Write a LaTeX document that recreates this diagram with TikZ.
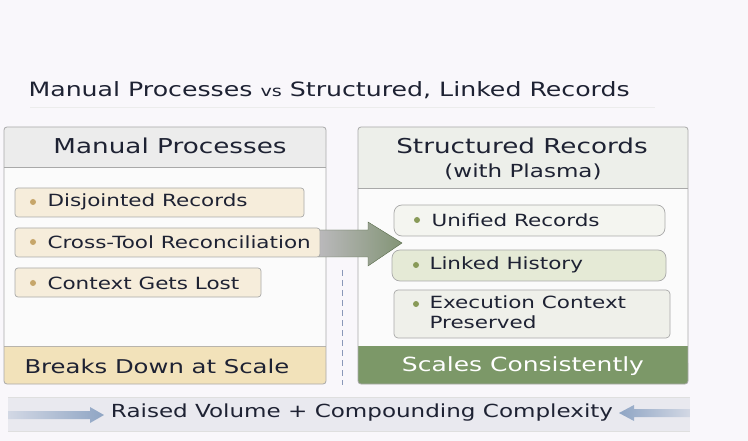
\documentclass[tikz,border=0pt]{standalone}
\usepackage{fontspec}
\setmainfont{DejaVu Sans}[FakeStretch=1.28]
\usetikzlibrary{shapes.arrows,arrows.meta,shadings}
\definecolor{bgc}{HTML}{F9F7FB}
\definecolor{ink}{HTML}{1E2233}
\definecolor{hdrL}{HTML}{ECECEC}
\definecolor{hdrR}{HTML}{EDEFEA}
\definecolor{tan}{HTML}{F2E2BA}
\definecolor{itemL}{HTML}{F6EDDB}
\definecolor{dotL}{HTML}{C6A66A}
\definecolor{grnF}{HTML}{7C9868}
\definecolor{itemR1}{HTML}{F4F5F0}
\definecolor{itemR2}{HTML}{E5EAD6}
\definecolor{itemR3}{HTML}{EFF0EA}
\definecolor{dotR}{HTML}{889A58}
\definecolor{edge}{HTML}{A9A9A9}
\definecolor{band}{HTML}{E9E9EF}
\definecolor{barrow}{HTML}{8FA5C4}
\definecolor{dashc}{HTML}{8A98B8}
\tikzset{
  panel/.style={draw=edge, line width=0.8pt, rounded corners=3pt},
  itemL/.style={draw=edge, fill=itemL, line width=0.7pt, rounded corners=3pt},
  itemR/.style={draw=edge, line width=0.7pt, rounded corners=8pt},
  itxt/.style={font=\fontsize{16.8}{21}\selectfont, text=ink, anchor=west},
  dotL/.style={circle, fill=dotL, inner sep=0pt, minimum size=6pt},
  dotR/.style={circle, fill=dotR, inner sep=0pt, minimum size=6pt},
}
\begin{document}
\begin{tikzpicture}[x=1pt,y=-1pt]
\useasboundingbox (0,0) rectangle (748,441);
\fill[bgc] (0,0) rectangle (748,441);
% title
\node[anchor=west, text=ink, font=\fontsize{19.7}{22}\selectfont] (title) at (25,90) {Manual Processes {\fontsize{15}{18}\selectfont vs} Structured, Linked Records};
\draw[draw=white!85!gray, line width=1pt] (30,108) -- (655,108);
% left panel
\fill[white!97!gray, rounded corners=3pt] (4,127) rectangle (326,384);
\fill[hdrL, rounded corners=3pt] (4,127) rectangle (326,150);
\fill[hdrL] (4,140) rectangle (326,167);
\draw[edge, line width=0.6pt] (4,167) -- (326,167);
\fill[tan] (4,346) rectangle (326,370);
\fill[tan, rounded corners=3pt] (4,360) rectangle (326,384);
\draw[edge!80!tan, line width=0.6pt] (4,346) -- (326,346);
\draw[panel] (4,127) rectangle (326,384);
\node[text=ink, font=\fontsize{20.5}{23}\selectfont] (lhead) at (170,146) {Manual Processes};
\node[anchor=west, text=ink, font=\fontsize{19}{21}\selectfont] (lfoot) at (21,366) {Breaks Down at Scale};
% right panel
\fill[white!97!gray, rounded corners=3pt] (358,127) rectangle (688,384);
\fill[hdrR, rounded corners=3pt] (358,127) rectangle (688,150);
\fill[hdrR] (358,140) rectangle (688,188);
\draw[edge, line width=0.6pt] (358,188) -- (688,188);
\fill[grnF] (358,346) rectangle (688,370);
\fill[grnF, rounded corners=3pt] (358,360) rectangle (688,384);
\draw[panel] (358,127) rectangle (688,384);
\node[text=ink, font=\fontsize{20.5}{23}\selectfont] (rhead1) at (522,146) {Structured Records};
\node[text=ink, font=\fontsize{18}{21}\selectfont] (rhead2) at (523,172) {(with Plasma)};
\node[text=white, font=\fontsize{19.5}{22}\selectfont] (rfoot) at (523,366) {Scales Consistently};
% dashed divider
\draw[dashc, dashed, dash pattern=on 6pt off 4pt, line width=0.8pt] (342,270) -- (342,385);
% left items
\draw[itemL] (15,188) rectangle (304,217);
\node[dotL] (d1) at (33,202) {};
\node[itxt] (t1) at (44,202) {Disjointed Records};
% arrow (behind item 2)
\shade[left color=black!25!bgc, right color=grnF!80!black!80!white] (318,230) -- (368,230) -- (368,222) -- (402,243) -- (368,266) -- (368,257) -- (318,257) -- cycle;
\draw[grnF!70!black, line width=0.4pt] (318,230) -- (368,230) -- (368,222) -- (402,243) -- (368,266) -- (368,257) -- (318,257);
\draw[itemL] (15,228) rectangle (320,257);
\node[dotL] (d2) at (33,242) {};
\node[itxt] (t2) at (44,242) {Cross-Tool Reconciliation};
\draw[itemL] (15,268) rectangle (261,297);
\node[dotL] (d3) at (33,283) {};
\node[itxt] (t3) at (44,283) {Context Gets Lost};
% right items
\draw[itemR, fill=itemR1] (394,205) rectangle (665,236);
\node[dotR] (e1) at (417,220) {};
\node[itxt] (u1) at (428,220) {Unified Records};
\draw[itemR, fill=itemR2] (392,250) rectangle (666,281);
\node[dotR] (e2) at (416,265) {};
\node[itxt] (u2) at (426,265) {Linked History};
\draw[itemR, rounded corners=4pt, fill=itemR3] (394,290) rectangle (670,338);
\node[dotR] (e3) at (416,304) {};
\node[itxt, align=left, anchor=north west] (u3) at (426,292) {Execution Context\\[-1pt]Preserved};
% bottom band
\fill[band] (8,397) rectangle (690,431);
\draw[white!75!gray, line width=0.7pt] (8,397) -- (690,397);
\draw[white!75!gray, line width=0.7pt] (8,431) -- (690,431);
\node[text=ink, font=\fontsize{18}{21}\selectfont] (btxt) at (362,413) {Raised Volume + Compounding Complexity};
\shade[left color=barrow!25!band, right color=barrow] (8,411) -- (90,411) -- (90,407) -- (104,415) -- (90,423) -- (90,419) -- (8,419) -- cycle;
\shade[right color=barrow!25!band, left color=barrow] (690,409) -- (634,409) -- (634,405) -- (619,413) -- (634,421) -- (634,417) -- (690,417) -- cycle;
\end{tikzpicture}
\end{document}
